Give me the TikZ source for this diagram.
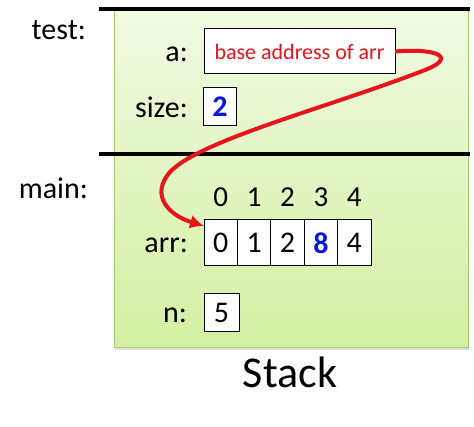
\documentclass[tikz,border=0pt]{standalone}
\usepackage{fontspec}
\setmainfont{Carlito}
\usepackage{xcolor}
\usepackage{tikz}
\usetikzlibrary{arrows.meta,positioning,calc,shadows}
\definecolor{frametop}{HTML}{F0FAE2}
\definecolor{framebot}{HTML}{D4EFA2}
\definecolor{frameedge}{HTML}{A8CB6C}
\definecolor{ptrred}{HTML}{E8141C}
\definecolor{valblue}{HTML}{0A14E0}
\tikzset{
  stackframe/.style={
    draw=frameedge,
    line width=1pt,
    top color=frametop,
    bottom color=framebot,
    minimum width=354pt,
    minimum height=338pt,
    drop shadow={shadow xshift=1pt,shadow yshift=-2pt,opacity=0.25}
  },
  varname/.style={
    anchor=base east,
    inner sep=0pt,
    font=\fontsize{30}{36}\selectfont
  },
  cellbox/.style={
    draw,
    line width=1pt,
    fill=white,
    outer sep=0pt,
    inner sep=0pt,
    minimum width=33.4pt,
    minimum height=46pt,
    font=\fontsize{30}{34}\selectfont
  },
  idxlabel/.style={
    anchor=base,
    inner sep=0pt,
    font=\fontsize{29}{33}\selectfont
  },
  divline/.style={
    line width=4pt
  },
  pointerarrow/.style={
    -{Latex[length=14pt,width=14pt]},
    line width=4pt,
    draw=ptrred
  }
}
\begin{document}
\begin{tikzpicture}[x=1pt,y=-1pt]
    \useasboundingbox (0,0) rectangle (474,427);
    \node[stackframe] (stack) at (291,179) {};
    \node[anchor=base, inner sep=0pt, font=\fontsize{44}{50}\selectfont] (title) at (290,388) {Stack};

    % frame dividers
    \coordinate (topL) at (99,9);
    \coordinate (topR) at (470,9);
    \coordinate (midL) at (99,154);
    \coordinate (midR) at (470,154);
    \draw[divline] (topL) -- (topR);
    \draw[divline] (midL) -- (midR);

    \node[varname] (test) at (86,40) {test:};
    \node[varname] (main) at (88,199) {main:};

    % test frame
    \node[cellbox, minimum width=191pt, minimum height=45pt, font=\fontsize{22}{26}\selectfont, text=ptrred] (a) at (299.5,51.5) {base address of arr};
    \node[varname] (alabel) at (188,62) {a:};
    \node[cellbox, minimum width=33pt, minimum height=38pt, text=valblue, font=\fontsize{30}{34}\selectfont\bfseries] (size) at (220,107) {2};
    \node[varname] (sizelabel) at (188,118) {size:};

    % main frame
    \node[cellbox] (arr0) at (220.7,243) {0};
    \node[cellbox, right=0pt of arr0] (arr1) {1};
    \node[cellbox, right=0pt of arr1] (arr2) {2};
    \node[cellbox, right=0pt of arr2, text=valblue, font=\fontsize{30}{34}\selectfont\bfseries] (arr3) {8};
    \node[cellbox, right=0pt of arr3] (arr4) {4};
    \node[varname] (arrlabel) at (188,253) {arr:};

    \node[idxlabel] (idx0) at ([yshift=13pt]arr0.north) {0};
    \node[idxlabel] (idx1) at ([yshift=13pt]arr1.north) {1};
    \node[idxlabel] (idx2) at ([yshift=13pt]arr2.north) {2};
    \node[idxlabel] (idx3) at ([yshift=13pt]arr3.north) {3};
    \node[idxlabel] (idx4) at ([yshift=13pt]arr4.north) {4};

    \node[cellbox, minimum width=35pt, minimum height=38pt] (n) at (221.5,313) {5};
    \node[varname] (nlabel) at (187,323) {n:};

    \draw[pointerarrow] (a.east) .. controls (440,48) and (456,58) .. (425,70)
      .. controls (330,107) and (200,140) .. (170,172)
      .. controls (150,195) and (168,215) .. ([yshift=17pt]arr0.west);
  \end{tikzpicture}
\end{document}
